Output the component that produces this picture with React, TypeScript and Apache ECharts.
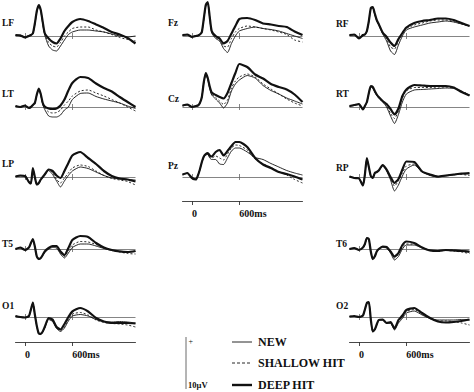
import React, { useEffect, useRef } from "react";
import * as echarts from "echarts";

// Time points (ms)
const TIMES = [-120, -60, 0, 50, 75, 100, 125, 150, 175, 200, 225, 250, 300, 350, 400, 450, 500, 550, 600, 700, 800, 900, 1000, 1100, 1200, 1300, 1400];
const TICK_VALUES = [0, 600];
const TICK_LABELS = ["0", "600ms"];
const LEGEND_NAMES = ["NEW", "SHALLOW HIT", "DEEP HIT"];
const SCALE_LABEL = "10µV";

// Amplitudes (µV), positive up
const LF_NEW = [0.1, 0.2, -0.2, 0.1, 0.2, 0.4, 2.3, 4.8, 6.0, 5.0, 2.4, 0.2, -2.0, -2.8, -3.0, -2.0, -0.8, 0.3, 0.8, 1.2, 1.2, 1.0, 0.8, 0.4, 0.0, -0.2, 0.0];
const LF_SHALLOW = [0.2, 0.0, -0.3, 0.1, 0.3, 0.5, 2.4, 4.9, 6.1, 5.1, 2.6, 0.4, -1.3, -2.0, -2.2, -1.3, 0.0, 0.8, 1.5, 1.8, 1.8, 1.2, 0.8, 0.3, -0.3, -0.7, -1.0];
const LF_DEEP = [0.2, 0.1, -0.3, 0.0, 0.2, 0.5, 2.5, 5.0, 6.2, 5.2, 2.8, 0.6, -0.5, -1.2, -1.5, -0.5, 1.0, 2.0, 2.8, 3.4, 3.0, 2.3, 1.6, 0.8, 0.3, -0.4, -1.5];

const FZ_NEW = [0.1, 0.2, -0.1, 0.1, 0.0, 0.2, 0.7, 3.3, 6.0, 6.5, 3.5, 0.6, -0.5, -1.0, -2.5, -3.3, -1.5, 0.0, 1.0, 1.5, 1.8, 1.5, 1.3, 1.0, 0.5, 0.0, -0.5];
const FZ_SHALLOW = [0.2, 0.3, -0.2, 0.0, 0.1, 0.3, 0.8, 3.4, 6.1, 6.6, 3.6, 0.8, -0.3, -0.8, -2.0, -2.2, -0.5, 0.8, 1.5, 2.0, 1.8, 1.5, 1.2, 0.8, 0.3, -0.8, -1.2];
const FZ_DEEP = [0.2, 0.3, -0.2, 0.0, 0.1, 0.3, 0.8, 3.5, 6.2, 6.8, 3.8, 1.0, 0.0, -0.5, -1.5, -1.0, 0.5, 2.0, 3.4, 3.6, 3.2, 2.5, 2.3, 2.0, 1.8, 0.9, 0.2];

const RF_NEW = [0.1, 0.2, -0.4, 0.1, 0.2, 0.9, 2.8, 5.4, 5.6, 4.3, 3.0, 2.2, 0.4, -1.0, -3.0, -3.7, -1.8, 0.0, 1.2, 1.8, 2.2, 2.6, 2.8, 3.0, 2.8, 2.4, 2.0];
const RF_SHALLOW = [0.2, 0.3, -0.5, 0.2, 0.3, 1.0, 2.9, 5.5, 5.7, 4.4, 3.1, 2.3, 0.6, -0.6, -2.2, -2.6, -1.0, 0.5, 1.5, 2.2, 2.6, 3.0, 3.2, 3.2, 2.9, 2.4, 2.0];
const RF_DEEP = [0.2, 0.3, -0.5, 0.2, 0.3, 1.0, 3.0, 5.6, 5.8, 4.5, 3.2, 2.4, 0.7, -0.2, -1.3, -2.0, -0.6, 0.6, 1.7, 2.6, 3.0, 3.2, 3.5, 3.5, 3.2, 2.6, 2.0];

const LT_NEW = [0.1, 0.1, 0.2, -0.1, 0.0, 0.3, 0.7, 2.4, 3.5, 2.4, 0.5, -0.5, -1.8, -2.0, -2.0, -1.6, -0.6, 0.0, 1.5, 2.7, 2.8, 2.1, 1.6, 1.2, 0.8, 0.2, -0.3];
const LT_SHALLOW = [0.2, 0.0, 0.3, -0.1, 0.1, 0.4, 0.8, 2.5, 3.6, 2.5, 0.6, -0.2, -1.0, -1.2, -1.1, -0.6, 0.4, 1.2, 2.2, 3.2, 3.4, 2.8, 2.2, 1.5, 0.8, 0.0, -0.8];
const LT_DEEP = [0.2, 0.0, 0.3, -0.2, 0.0, 0.4, 0.8, 2.5, 3.7, 2.6, 0.8, 0.1, -0.3, -0.4, -0.3, 0.3, 1.5, 3.3, 4.8, 6.0, 5.8, 4.7, 3.8, 3.1, 2.0, 1.0, 0.0];

const CZ_NEW = [0.2, 0.4, 0.0, 0.1, 0.2, 0.7, 1.9, 4.8, 6.6, 5.5, 3.6, 2.4, 1.6, 0.8, -0.2, 0.8, 3.2, 4.6, 5.4, 6.3, 5.8, 4.3, 3.3, 2.6, 1.8, 1.2, 0.6];
const CZ_SHALLOW = [0.3, 0.5, 0.0, 0.2, 0.3, 0.8, 2.0, 4.9, 6.7, 5.6, 3.8, 2.6, 1.9, 1.2, 0.5, 1.4, 3.8, 5.2, 6.0, 6.6, 6.0, 4.6, 3.6, 2.6, 1.6, 0.8, 0.2];
const CZ_DEEP = [0.3, 0.5, 0.0, 0.2, 0.3, 0.8, 2.0, 5.0, 6.8, 5.8, 4.1, 2.9, 2.4, 2.0, 1.7, 2.8, 4.8, 6.8, 8.6, 8.0, 6.5, 5.7, 4.6, 4.0, 3.5, 2.5, 1.0];

const RT_NEW = [0.1, 0.3, 0.5, -0.6, 0.1, 0.9, 2.7, 4.0, 3.8, 3.0, 2.3, 1.8, 1.0, 0.0, -1.8, -3.3, -1.5, 1.0, 2.6, 3.4, 3.5, 3.6, 3.7, 3.8, 3.7, 3.1, 2.4];
const RT_SHALLOW = [0.2, 0.4, 0.6, -0.5, 0.2, 1.0, 2.8, 4.1, 3.9, 3.1, 2.4, 1.9, 1.1, 0.3, -1.3, -2.3, -0.8, 1.8, 3.2, 3.9, 3.9, 3.9, 4.0, 4.0, 3.8, 3.2, 2.4];
const RT_DEEP = [0.2, 0.4, 0.6, -0.5, 0.2, 1.0, 2.8, 4.2, 4.0, 3.2, 2.5, 2.0, 1.2, 0.6, -0.4, -1.5, -0.3, 2.2, 3.5, 4.4, 4.3, 4.2, 4.2, 4.2, 3.9, 3.0, 2.3];

const LP_NEW = [0.1, 0.2, 0.2, -1.1, -1.4, 1.6, -0.1, -1.6, -1.3, -0.6, -0.1, 0.4, 1.3, 0.5, -0.8, -2.0, -0.8, 0.3, 1.2, 2.0, 1.7, 1.0, 0.3, -0.2, -0.4, -0.5, -0.6];
const LP_SHALLOW = [0.1, 0.3, 0.2, -1.0, -1.3, 1.7, 0.0, -1.5, -1.2, -0.5, 0.0, 0.5, 1.4, 0.9, -0.5, -1.2, -0.2, 0.8, 1.8, 2.4, 2.1, 1.2, 0.3, -0.3, -0.6, -0.9, -1.6];
const LP_DEEP = [0.1, 0.3, 0.2, -1.0, -1.3, 1.8, 0.0, -1.5, -1.2, -0.5, 0.0, 0.5, 1.5, 1.2, 0.3, -0.2, 1.2, 2.8, 4.3, 5.0, 3.8, 2.6, 1.2, 0.2, -0.3, -0.5, -0.9];

const PZ_NEW = [0.4, 0.7, -0.1, -0.4, 0.3, 1.4, 2.9, 4.0, 4.4, 4.5, 3.8, 3.5, 3.5, 2.6, 2.5, 3.8, 5.2, 5.8, 5.8, 5.0, 3.9, 3.5, 2.7, 2.0, 1.3, 0.8, 0.4];
const PZ_SHALLOW = [0.5, 0.8, -0.2, -0.5, 0.3, 1.5, 3.0, 4.0, 4.5, 4.6, 4.0, 3.8, 4.2, 3.8, 3.4, 4.6, 5.8, 6.4, 6.3, 5.4, 3.6, 2.6, 1.9, 1.1, 0.4, -0.5, -1.2];
const PZ_DEEP = [0.5, 0.8, -0.2, -0.5, 0.3, 1.5, 3.0, 4.1, 4.6, 4.8, 4.3, 4.1, 5.0, 5.4, 4.3, 5.2, 6.2, 7.0, 7.0, 6.0, 3.8, 2.5, 1.8, 1.0, 0.6, 0.1, -0.5];

const RP_NEW = [0.0, -0.1, -0.3, -1.6, 0.4, 3.6, 1.9, 0.1, -0.3, 0.7, 0.9, 1.2, 2.2, 1.2, -0.6, -2.8, -1.6, 0.2, 1.6, 2.4, 1.0, 0.3, 0.0, 0.2, 0.4, 0.6, 0.6];
const RP_SHALLOW = [0.1, -0.2, -0.3, -1.7, 0.5, 3.7, 2.0, 0.2, -0.2, 0.8, 1.0, 1.3, 2.3, 1.3, -0.3, -1.8, -0.8, 0.8, 2.2, 2.6, 1.1, 0.4, 0.1, 0.3, 0.5, 0.5, 0.3];
const RP_DEEP = [0.1, -0.2, -0.3, -1.7, 0.5, 3.8, 2.0, 0.2, -0.2, 0.8, 1.0, 1.3, 2.4, 1.5, 0.0, -1.2, -0.4, 1.5, 3.1, 3.0, 1.1, 0.5, 0.1, 0.3, 0.5, 0.7, 0.8];

const T5_NEW = [0.0, 0.2, -0.1, 0.2, 1.1, 1.9, 0.4, -1.6, -2.1, -1.9, -1.3, -0.7, 0.0, 0.3, 0.2, -1.0, -1.8, -0.8, 0.3, 1.0, 1.0, 0.6, 0.1, -0.3, -0.4, -0.6, -0.5];
const T5_SHALLOW = [0.0, 0.3, -0.2, 0.3, 1.2, 2.0, 0.5, -1.5, -2.0, -1.8, -1.2, -0.6, 0.1, 0.5, 0.4, -0.8, -1.5, -0.3, 0.8, 1.5, 1.4, 0.9, 0.2, -0.3, -0.6, -0.9, -1.0];
const T5_DEEP = [0.0, 0.3, -0.2, 0.3, 1.2, 2.0, 0.5, -1.5, -2.0, -1.8, -1.2, -0.5, 0.2, 0.6, 0.6, -0.5, -1.2, 0.2, 1.8, 2.6, 2.4, 1.2, 0.3, -0.2, -0.5, -0.6, -0.4];

const T6_NEW = [0.0, 0.1, -0.1, 0.2, 0.9, 2.1, 1.9, -0.6, -2.1, -1.6, -0.6, -0.1, 0.3, 0.2, -0.8, -2.2, -1.5, 0.0, 0.8, 0.8, 0.2, -0.2, -0.3, -0.2, -0.2, -0.3, -0.4];
const T6_SHALLOW = [0.0, 0.2, -0.2, 0.3, 1.0, 2.2, 2.0, -0.5, -2.0, -1.5, -0.5, 0.0, 0.4, 0.3, -0.6, -1.8, -1.0, 0.4, 1.0, 1.0, 0.3, -0.3, -0.4, -0.3, -0.4, -0.6, -0.9];
const T6_DEEP = [0.0, 0.2, -0.2, 0.3, 1.0, 2.2, 2.0, -0.5, -2.0, -1.5, -0.5, 0.0, 0.5, 0.4, -0.5, -1.5, -0.8, 0.8, 1.5, 1.2, 0.3, -0.3, -0.4, -0.2, -0.3, -0.4, -0.6];

const O1_NEW = [0.1, 0.0, -0.1, 0.1, 1.4, 2.8, 0.4, -1.9, -3.4, -3.5, -3.0, -2.2, -0.5, -0.9, -2.3, -2.9, -2.2, -0.8, 0.2, 0.5, 0.2, -0.5, -0.9, -1.0, -0.9, -1.0, -1.2];
const O1_SHALLOW = [0.2, 0.0, -0.1, 0.2, 1.5, 2.9, 0.5, -1.8, -3.3, -3.4, -2.9, -2.1, -0.4, -0.8, -2.1, -2.7, -2.0, -0.4, 0.6, 0.9, 0.4, -0.6, -1.1, -1.3, -1.4, -1.6, -2.0];
const O1_DEEP = [0.2, 0.0, -0.1, 0.2, 1.5, 2.9, 0.5, -1.8, -3.3, -3.4, -2.9, -2.0, -0.2, -0.5, -2.0, -2.5, -1.4, 0.0, 1.1, 1.8, 1.1, -0.2, -0.9, -1.2, -1.2, -1.2, -1.3];

const O2_NEW = [0.1, 0.1, 0.0, 0.2, 1.4, 2.7, 2.9, -0.6, -3.0, -2.6, -1.6, -0.7, -0.6, -1.3, -1.3, -2.6, -1.2, -0.3, 0.8, 1.2, 0.4, -0.3, -0.6, -0.6, -0.6, -0.5, -0.6];
const O2_SHALLOW = [0.1, 0.2, 0.0, 0.3, 1.5, 2.8, 3.0, -0.5, -2.9, -2.5, -1.5, -0.6, -0.5, -1.2, -1.1, -2.4, -0.9, 0.0, 1.1, 1.5, 0.6, -0.3, -0.8, -0.8, -0.9, -1.2, -1.6];
const O2_DEEP = [0.1, 0.2, 0.0, 0.3, 1.5, 2.8, 3.0, -0.5, -2.9, -2.5, -1.5, -0.6, -0.5, -1.2, -1.0, -2.3, -0.6, 0.3, 1.4, 1.8, 0.8, -0.2, -0.9, -1.1, -1.0, -0.8, -0.5];

const CHANNELS = [
  { name: "LF", data: [LF_NEW, LF_SHALLOW, LF_DEEP] },
  { name: "Fz", data: [FZ_NEW, FZ_SHALLOW, FZ_DEEP] },
  { name: "RF", data: [RF_NEW, RF_SHALLOW, RF_DEEP] },
  { name: "LT", data: [LT_NEW, LT_SHALLOW, LT_DEEP] },
  { name: "Cz", data: [CZ_NEW, CZ_SHALLOW, CZ_DEEP] },
  { name: "RT", data: [RT_NEW, RT_SHALLOW, RT_DEEP] },
  { name: "LP", data: [LP_NEW, LP_SHALLOW, LP_DEEP] },
  { name: "Pz", data: [PZ_NEW, PZ_SHALLOW, PZ_DEEP] },
  { name: "RP", data: [RP_NEW, RP_SHALLOW, RP_DEEP] },
  { name: "T5", data: [T5_NEW, T5_SHALLOW, T5_DEEP] },
  { name: "T6", data: [T6_NEW, T6_SHALLOW, T6_DEEP] },
  { name: "O1", data: [O1_NEW, O1_SHALLOW, O1_DEEP] },
  { name: "O2", data: [O2_NEW, O2_SHALLOW, O2_DEEP] },
];

// Layout (pixels)
const COL_LEFT = [15.5, 182.5, 349.5];
const COL_LABEL_X = [2, 168, 336];
const ROW_BASE = [36, 107, 177, 249, 317];
const LAYOUT: Record<string, { col: number; row: number; labelY: number; axisY?: number }> = {
  LF: { col: 0, row: 0, labelY: 23 },
  Fz: { col: 1, row: 0, labelY: 23 },
  RF: { col: 2, row: 0, labelY: 24 },
  LT: { col: 0, row: 1, labelY: 94 },
  Cz: { col: 1, row: 1, labelY: 99 },
  RT: { col: 2, row: 1, labelY: 94 },
  LP: { col: 0, row: 2, labelY: 164 },
  Pz: { col: 1, row: 2, labelY: 166, axisY: 201 },
  RP: { col: 2, row: 2, labelY: 168 },
  T5: { col: 0, row: 3, labelY: 244 },
  T6: { col: 2, row: 3, labelY: 244 },
  O1: { col: 0, row: 4, labelY: 306, axisY: 342 },
  O2: { col: 2, row: 4, labelY: 306, axisY: 342 },
};

const X_MIN = -120;
const X_MAX = 1400;
const Y_MIN = -5;
const Y_MAX = 7;
const PX_PER_UV = 5;
const PLOT_W = 120;
const SERIF = '"Liberation Serif", "DejaVu Serif", serif';
const INK = "#111";

export default function App() {
  const ref = useRef<HTMLDivElement>(null);

  useEffect(() => {
    if (!ref.current) return;
    const chart = echarts.init(ref.current, null, { renderer: "svg" });

    const grids: any[] = [];
    const xAxes: any[] = [];
    const yAxes: any[] = [];
    const series: any[] = [];
    const graphics: any[] = [];

    CHANNELS.forEach((ch, i) => {
      const lay = LAYOUT[ch.name];
      const base = ROW_BASE[lay.row];
      const top = base - Y_MAX * PX_PER_UV;
      const height = (Y_MAX - Y_MIN) * PX_PER_UV;
      grids.push({ left: COL_LEFT[lay.col], top, width: PLOT_W, height });
      const hasAxis = lay.axisY !== undefined;
      xAxes.push({
        gridIndex: i,
        type: "value",
        min: X_MIN,
        max: X_MAX,
        show: hasAxis,
        position: "bottom",
        offset: hasAxis ? (lay.axisY as number) - (top + height) : 0,
        axisLine: { show: true, onZero: false, lineStyle: { color: "#333", width: 0.9 } },
        axisTick: { show: true, customValues: TICK_VALUES, length: 4, lineStyle: { color: "#333", width: 0.9 } },
        axisLabel: {
          show: true,
          customValues: TICK_VALUES,
          formatter: (v: number) => TICK_LABELS[TICK_VALUES.indexOf(v)] ?? "",
          align: "left",
          margin: 7,
          fontFamily: SERIF,
          fontWeight: "bold",
          fontSize: 10,
          color: INK,
        },
        splitLine: { show: false },
      });
      yAxes.push({ gridIndex: i, type: "value", min: Y_MIN, max: Y_MAX, show: false });

      const styles = [
        { width: 0.9, type: "solid" },
        { width: 0.9, type: [2, 2] },
        { width: 2.2, type: "solid" },
      ];
      ch.data.forEach((arr, k) => {
        const s: any = {
          type: "line",
          name: LEGEND_NAMES[k],
          xAxisIndex: i,
          yAxisIndex: i,
          data: TIMES.map((t, j) => [t, arr[j]]),
          symbol: "none",
          smooth: 0.2,
          clip: false,
          silent: true,
          z: 3 + k,
          lineStyle: { color: INK, width: styles[k].width, type: styles[k].type },
        };
        if (k === 0) {
          s.markLine = {
            silent: true,
            symbol: ["none", "none"],
            label: { show: false },
            z: 1,
            lineStyle: { color: "#666", width: 0.8, type: "solid" },
            data: [
              { yAxis: 0 },
              ...TICK_VALUES.map((v) => [{ coord: [v, -0.6] }, { coord: [v, 0.6] }]),
            ],
          };
        }
        series.push(s);
      });

      graphics.push({
        type: "text",
        x: COL_LABEL_X[lay.col],
        y: lay.labelY,
        style: {
          text: ch.name,
          fontFamily: SERIF,
          fontWeight: "bold",
          fontSize: 9.5,
          fill: INK,
          verticalAlign: "middle",
          align: "left",
        },
      });
    });

    // Legend / scale bar
    const legendY = [342, 363, 385];
    graphics.push({
      type: "line",
      shape: { x1: 186, y1: 337, x2: 186, y2: 389 },
      style: { stroke: "#444", lineWidth: 0.8 },
    });
    graphics.push({
      type: "text",
      x: 188.5,
      y: 341,
      style: { text: "+", fontFamily: SERIF, fontSize: 8, fill: INK, verticalAlign: "middle" },
    });
    graphics.push({
      type: "text",
      x: 188,
      y: 385,
      style: { text: SCALE_LABEL, fontFamily: SERIF, fontWeight: "bold", fontSize: 8.5, fill: INK, verticalAlign: "middle" },
    });
    const legendStyles = [
      { lineWidth: 0.9, lineDash: null },
      { lineWidth: 0.9, lineDash: [3, 2] },
      { lineWidth: 2.4, lineDash: null },
    ];
    LEGEND_NAMES.forEach((nm, k) => {
      graphics.push({
        type: "line",
        shape: { x1: 232, y1: legendY[k], x2: 252, y2: legendY[k] },
        style: { stroke: INK, lineWidth: legendStyles[k].lineWidth, lineDash: legendStyles[k].lineDash },
      });
      graphics.push({
        type: "text",
        x: 258,
        y: legendY[k],
        style: { text: nm, fontFamily: SERIF, fontWeight: "bold", fontSize: 12, fill: INK, verticalAlign: "middle" },
      });
    });

    chart.setOption({
      animation: false,
      backgroundColor: "#ffffff",
      grid: grids,
      xAxis: xAxes,
      yAxis: yAxes,
      series,
      graphic: graphics,
    });

    return () => chart.dispose();
  }, []);

  return (
    <div
      ref={ref}
      style={{ position: "fixed", left: 0, top: 0, width: 474, height: 392, background: "#fff" }}
    />
  );
}
